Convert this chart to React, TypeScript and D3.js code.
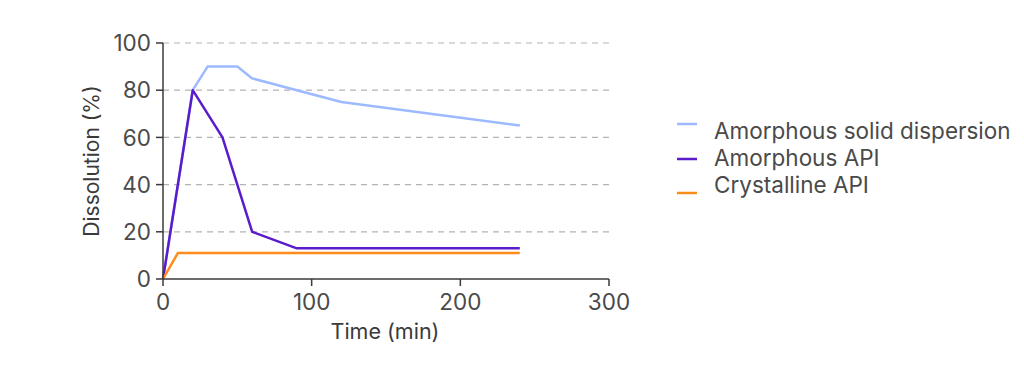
import React from "react";
import * as d3 from "d3";

const seriesNames = ["Amorphous solid dispersion", "Amorphous API", "Crystalline API"];
const seriesColors = ["#9db9ff", "#5a1ccb", "#ff8c1a"];
const asdTime = [0, 20, 30, 50, 60, 90, 120, 240];
const asdValue = [0, 80, 90, 90, 85, 80, 75, 65];
const apiTime = [0, 20, 40, 60, 90, 240];
const apiValue = [0, 80, 60, 20, 13, 13];
const crysTime = [0, 10, 240];
const crysValue = [0, 11, 11];
const xTicks = [0, 100, 200, 300];
const yTicks = [0, 20, 40, 60, 80, 100];

export default function App() {
  const x = d3.scaleLinear().domain([0, 300]).range([163, 609]);
  const y = d3.scaleLinear().domain([0, 100]).range([279, 43]);
  const line = d3
    .line<[number, number]>()
    .x((d) => x(d[0]))
    .y((d) => y(d[1]));
  const series: [number, number][][] = [
    asdTime.map((t, i) => [t, asdValue[i]]),
    apiTime.map((t, i) => [t, apiValue[i]]),
    crysTime.map((t, i) => [t, crysValue[i]]),
  ];
  const font = "Inter, 'DejaVu Sans', sans-serif";
  const legendSwatchY = [124, 159, 193];
  const legendTextY = [131, 158, 185];
  return (
    <div style={{ position: "absolute", left: 0, top: 0 }}>
      <svg width={1024} height={377} style={{ display: "block", background: "#fff" }}>
        {yTicks.slice(1).map((t) => (
          <line
            key={"g" + t}
            x1={x(0)}
            x2={x(300)}
            y1={y(t)}
            y2={y(t)}
            stroke="#b3b3b3"
            strokeWidth={1.2}
            strokeDasharray="6,5"
          />
        ))}
        {series.map((s, i) => (
          <path key={i} d={line(s) || ""} fill="none" stroke={seriesColors[i]} strokeWidth={2.5} strokeLinejoin="round" />
        ))}
        <line x1={x(0)} x2={x(0)} y1={y(100)} y2={y(0)} stroke="#3a3a3a" strokeWidth={1.5} />
        <line x1={x(0)} x2={x(300)} y1={y(0)} y2={y(0)} stroke="#3a3a3a" strokeWidth={1.5} />
        {yTicks.map((t) => (
          <g key={"y" + t}>
            <line x1={x(0) - 7} x2={x(0)} y1={y(t)} y2={y(t)} stroke="#3a3a3a" strokeWidth={1.5} />
            <text x={x(0) - 12} y={y(t)} dy="0.36em" textAnchor="end" fontFamily={font} fontSize={22.5} fill="#4a4a4a">
              {t}
            </text>
          </g>
        ))}
        {xTicks.map((t) => (
          <g key={"x" + t}>
            <line x1={x(t)} x2={x(t)} y1={y(0)} y2={y(0) + 7} stroke="#3a3a3a" strokeWidth={1.5} />
            <text x={x(t)} y={y(0) + 31} textAnchor="middle" fontFamily={font} fontSize={22.5} fill="#4a4a4a">
              {t}
            </text>
          </g>
        ))}
        <text x={385} y={339} textAnchor="middle" fontFamily={font} fontSize={21.5} fill="#3a3a3a">
          Time (min)
        </text>
        <text
          transform={`translate(99,${y(50)}) rotate(-90)`}
          textAnchor="middle"
          fontFamily={font}
          fontSize={21}
          fill="#3a3a3a"
        >
          Dissolution (%)
        </text>
        {seriesNames.map((n, i) => (
          <g key={"l" + i}>
            <line x1={677} x2={697} y1={legendSwatchY[i]} y2={legendSwatchY[i]} stroke={seriesColors[i]} strokeWidth={2.5} />
            <text x={714} y={legendTextY[i]} dy="0.36em" fontFamily={font} fontSize={22.5} fill="#4a4a4a">
              {n}
            </text>
          </g>
        ))}
      </svg>
    </div>
  );
}
